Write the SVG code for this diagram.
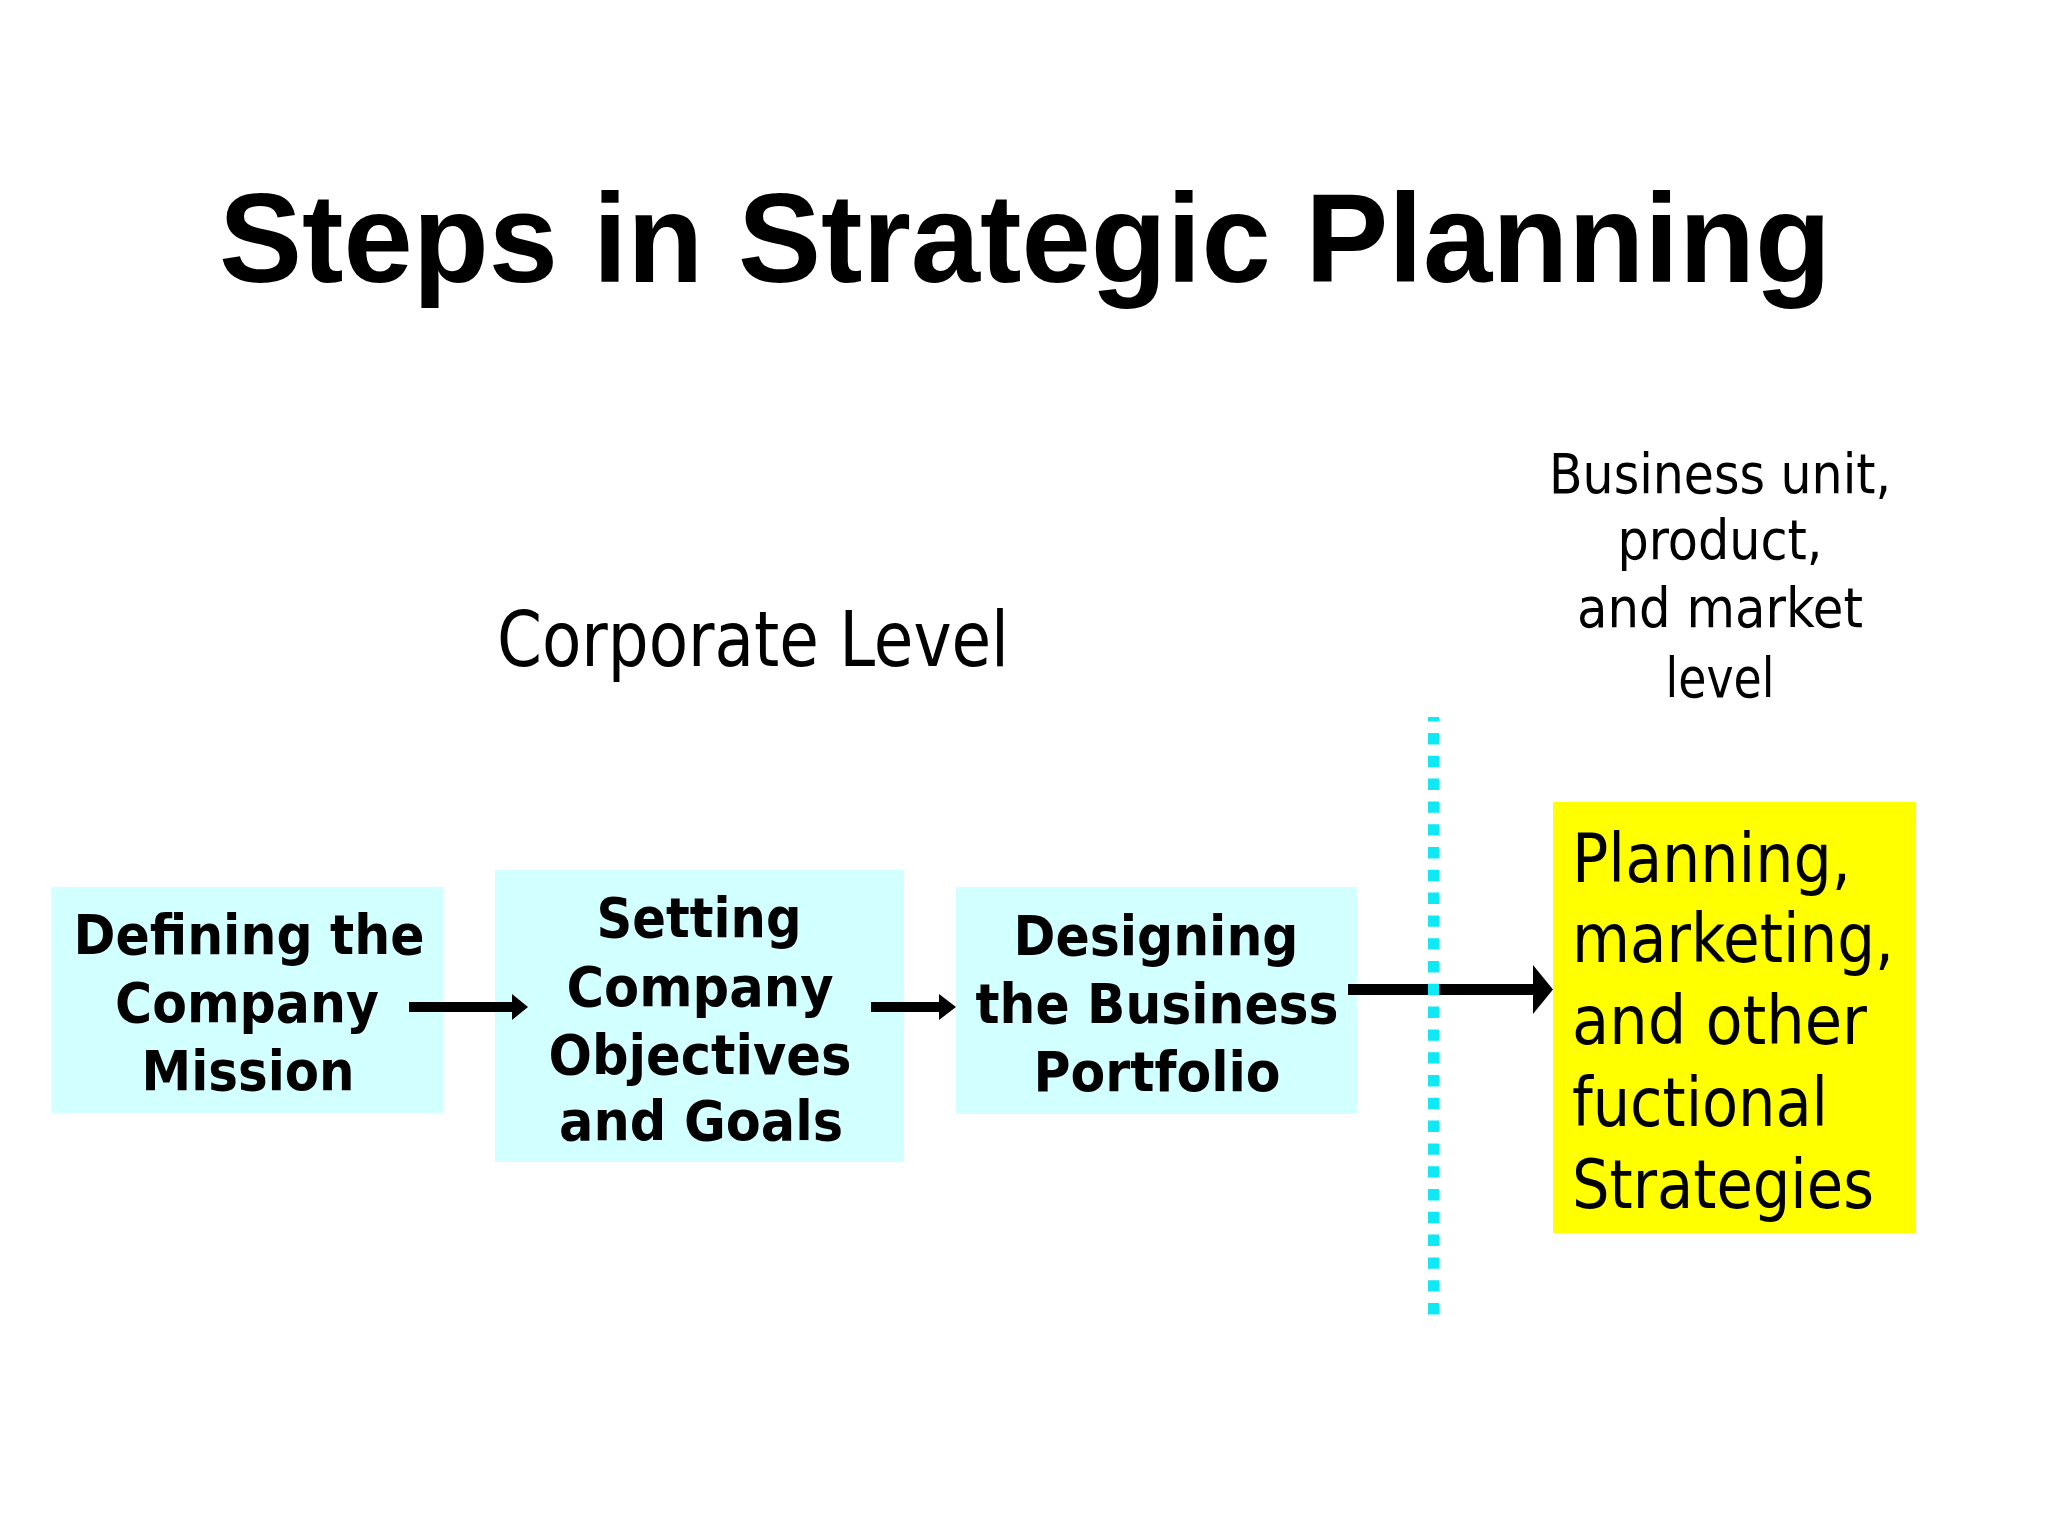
<svg xmlns="http://www.w3.org/2000/svg" width="2048" height="1536" viewBox="0 0 2048 1536">
<defs>
<style>
.title{font-family:"Liberation Sans",Arial,sans-serif;font-weight:bold;font-size:126px;fill:#000;text-anchor:middle}
.lbl{font-family:"DejaVu Sans Condensed","DejaVu Sans",sans-serif;fill:#000;text-anchor:middle}
.box{fill:#D2FFFF}
.bt{font-family:"DejaVu Sans Condensed","DejaVu Sans",sans-serif;font-weight:bold;font-size:56px;fill:#000;text-anchor:middle}
.yt{font-family:"DejaVu Sans Condensed","DejaVu Sans",sans-serif;font-size:68px;fill:#000}
.conn{stroke:#000;fill:none}
</style>
</defs>
<rect width="2048" height="1536" fill="#FFFFFF"/>
<text class="title" x="1025" y="282" textLength="1612" lengthAdjust="spacingAndGlyphs">Steps in Strategic Planning</text>
<text class="lbl" x="753" y="666" font-size="77" textLength="512" lengthAdjust="spacingAndGlyphs">Corporate Level</text>
<g id="label-business" class="lbl" font-size="55">
<text x="1720" y="493" textLength="342" lengthAdjust="spacingAndGlyphs">Business unit,</text>
<text x="1720" y="559" textLength="205" lengthAdjust="spacingAndGlyphs">product,</text>
<text x="1720" y="627" textLength="286" lengthAdjust="spacingAndGlyphs">and market</text>
<text x="1720" y="697" textLength="109" lengthAdjust="spacingAndGlyphs">level</text>
</g>
<g id="node-mission">
<rect class="box" x="51" y="887" width="392" height="226"/>
<text class="bt" x="249" y="954" textLength="351" lengthAdjust="spacingAndGlyphs">Defining the</text>
<text class="bt" x="247" y="1022" textLength="264" lengthAdjust="spacingAndGlyphs">Company</text>
<text class="bt" x="248" y="1090" textLength="213" lengthAdjust="spacingAndGlyphs">Mission</text>
</g>
<g id="node-objectives">
<rect class="box" x="495" y="870" width="409" height="292"/>
<text class="bt" x="699" y="937" textLength="205" lengthAdjust="spacingAndGlyphs">Setting</text>
<text class="bt" x="700" y="1006" textLength="267" lengthAdjust="spacingAndGlyphs">Company</text>
<text class="bt" x="700" y="1074" textLength="303" lengthAdjust="spacingAndGlyphs">Objectives</text>
<text class="bt" x="701" y="1140" textLength="284" lengthAdjust="spacingAndGlyphs">and Goals</text>
</g>
<g id="node-portfolio">
<rect class="box" x="956" y="887" width="401" height="227"/>
<text class="bt" x="1156" y="955" textLength="285" lengthAdjust="spacingAndGlyphs">Designing</text>
<text class="bt" x="1157" y="1023" textLength="363" lengthAdjust="spacingAndGlyphs">the Business</text>
<text class="bt" x="1157" y="1091" textLength="247" lengthAdjust="spacingAndGlyphs">Portfolio</text>
</g>
<g id="node-functional">
<rect x="1553" y="802" width="363" height="431" fill="#FFFF00"/>
<text class="yt" x="1572" y="882" textLength="279" lengthAdjust="spacingAndGlyphs">Planning,</text>
<text class="yt" x="1572" y="962" textLength="322" lengthAdjust="spacingAndGlyphs">marketing,</text>
<text class="yt" x="1572" y="1044" textLength="295" lengthAdjust="spacingAndGlyphs">and other</text>
<text class="yt" x="1572" y="1126" textLength="256" lengthAdjust="spacingAndGlyphs">fuctional</text>
<text class="yt" x="1572" y="1208" textLength="302" lengthAdjust="spacingAndGlyphs">Strategies</text>
</g>
<g id="connectors">
<line class="conn" x1="409" y1="1007" x2="514" y2="1007" stroke-width="10"/>
<polygon points="512,994 528,1007 512,1020" fill="#000"/>
<line class="conn" x1="871" y1="1007" x2="941" y2="1007" stroke-width="10"/>
<polygon points="939,994 956,1007 939,1020" fill="#000"/>
<line class="conn" x1="1348" y1="989.5" x2="1535" y2="989.5" stroke-width="11"/>
<polygon points="1533,965 1553,989.5 1533,1014" fill="#000"/>
<line x1="1433.5" y1="717" x2="1433.5" y2="1314.4" stroke="#0FE8F5" stroke-width="11" stroke-dasharray="11.4 11.4" stroke-dashoffset="6.8"/>
</g>
</svg>
